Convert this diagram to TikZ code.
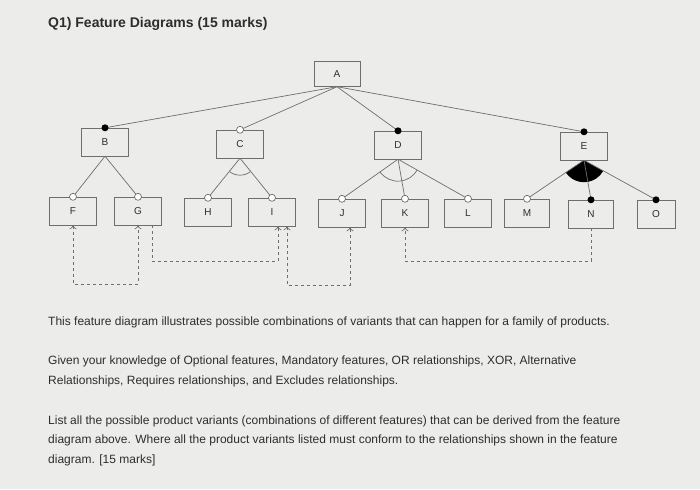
\documentclass[tikz,border=0pt]{standalone}
\usepackage{fontspec}
\setmainfont{Liberation Sans}
\usetikzlibrary{arrows.meta}
\definecolor{bg}{RGB}{236,236,234}
\definecolor{ln}{RGB}{110,110,110}
\definecolor{tx}{RGB}{45,45,45}
\begin{document}
\begin{tikzpicture}[x=1pt,y=-1pt,
  fbox/.style={draw=ln,fill=bg,minimum width=47pt,minimum height=28pt,inner sep=0pt,font=\fontsize{10}{11}\selectfont,text=tx},
  edge/.style={draw=ln,line width=0.7pt},
  opt/.style={circle,draw=ln,fill=white,inner sep=0pt,minimum size=7pt,line width=0.7pt},
  man/.style={circle,fill=black,inner sep=0pt,minimum size=7pt},
  req/.style={draw=ln,dashed,line width=0.7pt},
  ah/.tip={To[length=4pt,width=7pt]},
  txt/.style={anchor=west,text=tx,font=\fontsize{12}{14}\selectfont,inner sep=0pt}]
\fill[bg] (0,0) rectangle (700,489);
\useasboundingbox (0,0) rectangle (700,489);
\node[txt,font=\fontsize{14}{16}\selectfont\bfseries] (title) at (48,24) {Q1) Feature Diagrams (15 marks)};
% boxes
\node[fbox,minimum width=46pt,minimum height=25pt] (A) at (337,74) {A};
\node[fbox] (B) at (105,142) {B};
\node[fbox] (C) at (240,144) {C};
\node[fbox] (D) at (398,145) {D};
\node[fbox] (E) at (584,146) {E};
\node[fbox] (F) at (73,211) {F};
\node[fbox] (G) at (138,211) {G};
\node[fbox] (H) at (208,212) {H};
\node[fbox] (I) at (272,212) {I};
\node[fbox] (J) at (342,213) {J};
\node[fbox] (K) at (405,213) {K};
\node[fbox] (L) at (468,213) {L};
\node[fbox,minimum width=45pt] (M) at (527,213) {M};
\node[fbox,minimum width=45pt] (N) at (591,214) {N};
\node[fbox,minimum width=38pt] (O) at (656,214) {O};
% A children
\foreach \c in {B,C,D,E} \draw[edge] (A.south) -- (\c.north);
\node[man] (dB) at (B.north) {};
\node[opt] (dC) at (C.north) {};
\node[man] (dD) at (D.north) {};
\node[man] (dE) at (E.north) {};
% B children
\foreach \c in {F,G} {\draw[edge] (B.south) -- (\c.north); \node[opt] at (\c.north) {};}
% C children
\foreach \c in {H,I} {\draw[edge] (C.south) -- (\c.north); \node[opt] at (\c.north) {};}
\draw[edge] ([shift={(231.3:17pt)}]C.south) arc[start angle=231.3,end angle=308.7,radius=17pt];
% D children
\foreach \c in {J,K,L} {\draw[edge] (D.south) -- (\c.north); \node[opt] at (\c.north) {};}
\draw[edge] ([shift={(215.1:22pt)}]D.south) arc[start angle=215.1,end angle=329.9,radius=22pt];
% E children
\fill (E.south) -- ++(213.7:22pt) arc[start angle=213.7,end angle=330.2,radius=22pt] -- cycle;
\foreach \c in {M,N,O} \draw[edge] (E.south) -- (\c.north);
\node[opt] at (M.north) {};
\node[man] at (N.north) {};
\node[man] at (O.north) {};
% requires / dashed
\coordinate (f1) at (73,284); \coordinate (g1) at (138,284);
\draw[req,{ah}-{ah}] (F.south) -- (f1) -- (g1) -- (G.south);
\coordinate (g2) at (152,261); \coordinate (i2) at (278,261);
\draw[req,-{ah}] ([xshift=14pt]G.south) -- (g2) -- (i2) -- ([xshift=6pt]I.south);
\coordinate (i3) at (287,285); \coordinate (j3) at (350,285);
\draw[req,{ah}-{ah}] ([xshift=15pt]I.south) -- (i3) -- (j3) -- ([xshift=8pt]J.south);
\coordinate (n4) at (591,261); \coordinate (k4) at (405,261);
\draw[req,-{ah}] (N.south) -- (n4) -- (k4) -- (K.south);
% text
\node[txt] (p1) at (48,322) {This feature diagram illustrates possible combinations of variants that can happen for a family of products.};
\node[txt] (p2) at (48,361) {Given your knowledge of Optional features, Mandatory features, OR relationships, XOR, Alternative};
\node[txt] (p3) at (48,381) {Relationships, Requires relationships, and Excludes relationships.};
\node[txt] (p4) at (48,421) {List all the possible product variants (combinations of different features) that can be derived from the feature};
\node[txt] (p5) at (48,440) {diagram above. Where all the product variants listed must conform to the relationships shown in the feature};
\node[txt] (p6) at (48,460) {diagram. [15 marks]};
\end{tikzpicture}
\end{document}
